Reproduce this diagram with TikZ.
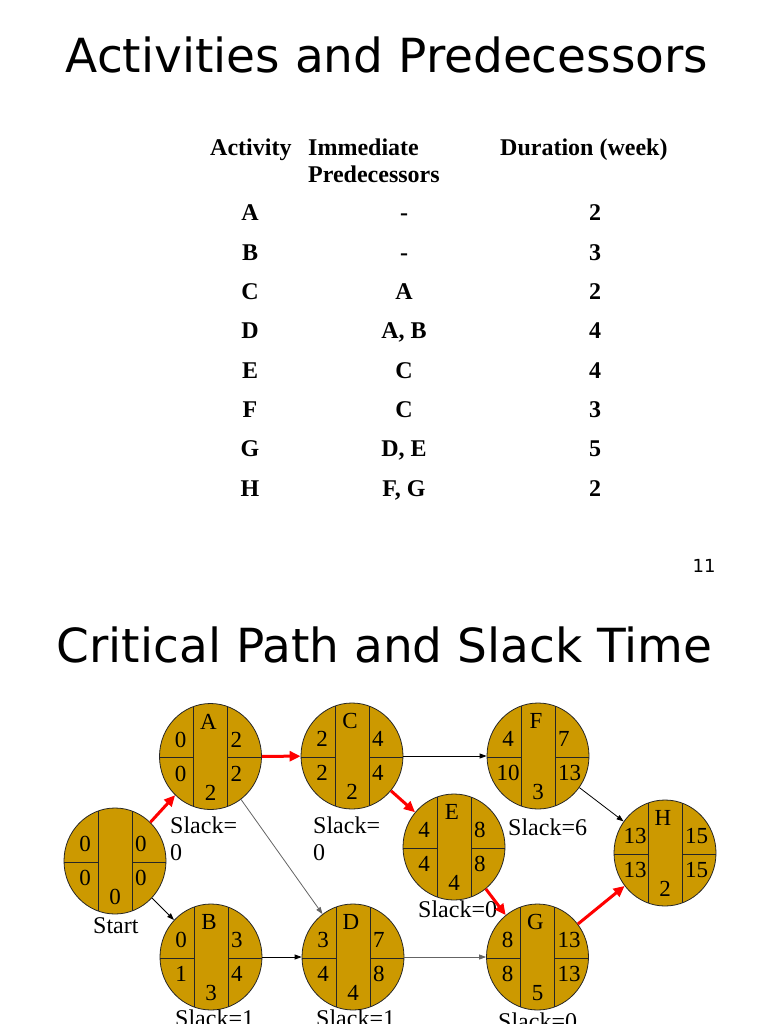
\documentclass[tikz,border=0pt]{standalone}
\usepackage{fontspec}
\setmainfont{Liberation Serif}
\newfontfamily\titlefont{DejaVu Sans}
\usetikzlibrary{shapes.geometric,arrows.meta}
\definecolor{gold}{RGB}{204,153,0}
\definecolor{darkgray}{RGB}{100,100,100}
\tikzset{
  act/.style={ellipse,draw=black!85,line width=0.8pt,fill=gold,minimum width=102pt,minimum height=106pt,inner sep=0pt},
  num/.style={inner sep=0pt,font=\fontsize{23}{26}\selectfont},
  slack/.style={inner sep=0pt,anchor=base west,font=\fontsize{24}{27}\selectfont},
  tab/.style={inner sep=0pt,anchor=base,font=\fontsize{24}{27}\selectfont\bfseries},
  tabl/.style={inner sep=0pt,anchor=base west,font=\fontsize{24}{27}\selectfont\bfseries},
  title/.style={inner sep=0pt,anchor=base,font=\titlefont\fontsize{47}{52}\selectfont},
  divline/.style={line width=0.8pt,black!85},
  crit/.style={red,line width=3pt,-{Triangle[length=11pt,width=10pt]}},
  norm/.style={black,line width=0.8pt,-{Triangle[length=7pt,width=5pt]}},
  grayarr/.style={darkgray,line width=0.8pt,-{Triangle[length=7pt,width=5pt]}}
}
% name, x, y, label, ES, EF, LS, LF, duration
\newcommand\actnode[9]{%
  \node[act] (#1) at (#2,#3) {};
  \begin{scope}[shift={(#2,#3)}]
    \draw[divline] (-17,-50) -- (-17,50);
    \draw[divline] (17,-50) -- (17,50);
    \draw[divline] (-51,1) -- (-17,1);
    \draw[divline] (17,1) -- (51,1);
    \node[num] (#1es) at (-30,-17) {#5};
    \node[num] (#1ls) at (-30,17) {#7};
    \node[num,anchor=west] (#1ef) at (20,-17) {#6};
    \node[num,anchor=west] (#1lf) at (20,17) {#8};
    \node[num] (#1lab) at (-2,-35) {#4};
    \node[num] (#1dur) at (0,36) {#9};
  \end{scope}}
\begin{document}
\begin{tikzpicture}[x=1pt,y=-1pt]
\useasboundingbox (0,0) rectangle (768,1024);
% ---------- slide 1 ----------
\node[title] (t1) at (387,73) {Activities and Predecessors};
\node[tabl] (h1) at (210,156) {Activity};
\node[tabl] (h2) at (308,156) {Immediate};
\node[tabl] (h2b) at (308,183) {Predecessors};
\node[tabl] (h3) at (500,156) {Duration (week)};
\foreach \a/\p/\d [count=\i from 0] in {A/-/2,B/-/3,C/A/2,D/{A, B}/4,E/C/4,F/C/3,G/{D, E}/5,H/{F, G}/2}{
  \node[tab] (ra\i) at (250,221+39.3*\i) {\a};
  \node[tab] (rp\i) at (404,221+39.3*\i) {\p};
  \node[tab] (rd\i) at (595,221+39.3*\i) {\d};
}
\node[inner sep=0pt,anchor=base,font=\titlefont\fontsize{18}{20}\selectfont] (pg) at (704,572) {11};
% ---------- slide 2 ----------
\node[title] (t2) at (384.5,662) {Critical Path and Slack Time};
\actnode{S}{115}{861}{}{0}{0}{0}{0}{0}
\actnode{A}{210.5}{756.5}{A}{0}{2}{0}{2}{2}
\actnode{C}{352}{756}{C}{2}{4}{2}{4}{2}
\actnode{F}{538}{756}{F}{4}{7}{10}{13}{3}
\actnode{E}{454}{847}{E}{4}{8}{4}{8}{4}
\actnode{H}{665}{853}{H}{13}{15}{13}{15}{2}
\actnode{B}{211}{957}{B}{0}{3}{1}{4}{3}
\actnode{D}{353}{957}{D}{3}{7}{4}{8}{4}
\actnode{G}{537.5}{957}{G}{8}{13}{8}{13}{5}
% labels
\node[slack] (sla1) at (170,833) {Slack=};
\node[slack] (sla2) at (170,860) {0};
\node[slack] (slc1) at (313,833) {Slack=};
\node[slack] (slc2) at (313,860) {0};
\node[slack] (slf) at (508,835) {Slack=6};
\node[slack] (sle) at (418,917) {Slack=0};
\node[slack] (slb) at (175,1026) {Slack=1};
\node[slack] (sld) at (316,1026) {Slack=1};
\node[slack] (slg) at (498,1029) {Slack=0};
\node[slack] (start) at (93,933) {Start};
% connectors
\draw[crit] (S) -- (A);
\draw[crit] (A) -- (C);
\draw[crit] (C) -- (E);
\draw[crit] (E) -- (G);
\draw[crit] (G) -- (H);
\draw[norm] (S) -- (B);
\draw[norm] (B) -- (D);
\draw[norm] (C) -- (F);
\draw[norm] (F) -- (H);
\draw[grayarr] (A) -- (D);
\draw[grayarr] (D) -- (G);
\end{tikzpicture}
\end{document}
